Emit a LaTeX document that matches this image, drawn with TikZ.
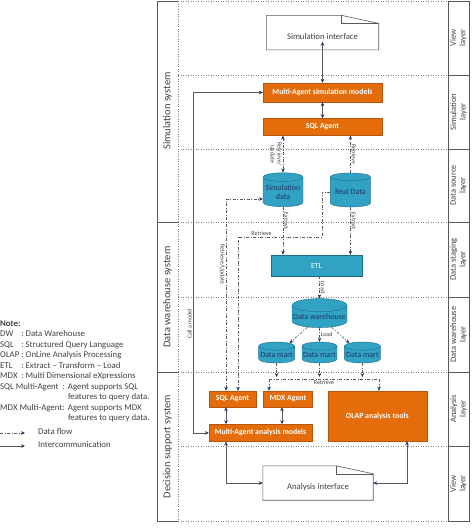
\documentclass[tikz,border=0pt]{standalone}
\usepackage{fontspec}
\setmainfont{Carlito}
\usetikzlibrary{positioning,shapes.geometric,arrows.meta}
\definecolor{orangefill}{HTML}{E46C0A}
\definecolor{orangeline}{HTML}{B5560C}
\definecolor{tealfill}{HTML}{31A1C4}
\definecolor{tealline}{HTML}{1E6E8A}
\definecolor{navy}{HTML}{1F3864}
\definecolor{linegray}{HTML}{595959}
\definecolor{textgray}{HTML}{404040}
\begin{document}
\begin{tikzpicture}[x=1pt,y=-1pt,
  agentbox/.style={draw=orangeline,fill=orangefill,text=white,font=\fontsize{7.8}{9}\selectfont\bfseries,inner sep=0pt},
  etlbox/.style={draw=tealline,fill=tealfill,text=white,font=\fontsize{7.8}{9}\selectfont,inner sep=0pt},
  dbase/.style={cylinder,shape border rotate=90,shape aspect=0.25,draw=tealline,fill=tealfill,text=navy,font=\fontsize{8}{9.5}\selectfont,align=center,inner sep=0pt},
  docpage/.style={inner sep=0pt,text=textgray,font=\fontsize{8.7}{10}\selectfont},
  flow/.style={draw=linegray,line width=0.6pt,dash pattern=on 3pt off 1.5pt on 1pt off 1.5pt},
  comm/.style={draw=linegray,line width=0.6pt},
  flowlabel/.style={font=\fontsize{6}{7}\selectfont,text=textgray,inner sep=1pt},
  layerlabel/.style={rotate=90,align=center,text=textgray,font=\fontsize{8.5}{9.5}\selectfont},
  syslabel/.style={rotate=90,text=textgray,font=\fontsize{10.5}{12}\selectfont},
  layerline/.style={draw=gray,line width=0.5pt,dotted},
  legtext/.style={text=textgray,font=\fontsize{8.8}{10.5}\selectfont,inner sep=0pt},
  >={Stealth[length=4pt,width=3.6pt,color=navy]}]
\useasboundingbox (0,0) rectangle (474,528);
\draw[linegray,line width=0.6pt] (178,1) -- (157,1) -- (157,521) -- (178,521);
\draw[linegray,line width=0.6pt] (157,222) -- (178,222) (157,372) -- (178,372);
\draw[layerline] (178,1) -- (178,521);
\foreach \y in {1,75,149,222,297,372,446,521}
  \draw[layerline] (178,\y) -- (448,\y);
\draw[linegray,line width=0.6pt] (448,1) rectangle (469,521);
\foreach \y in {75,149,222,297,372,446}
  \draw[linegray,line width=0.6pt] (448,\y) -- (469,\y);
\node[syslabel] (simsys) at (167.5,111) {Simulation system};
\node[syslabel] (dwsys) at (167.5,297) {Data warehouse system};
\node[syslabel] (dss) at (167.5,446.5) {Decision support system};
\node[layerlabel] (l1) at (458.5,38) {View\\layer};
\node[layerlabel] (l2) at (458.5,112) {Simulation\\layer};
\node[layerlabel] (l3) at (458.5,185.5) {Data source\\layer};
\node[layerlabel] (l4) at (458.5,259.5) {Data staging\\layer};
\node[layerlabel] (l5) at (458.5,334.5) {Data warehouse\\layer};
\node[layerlabel] (l6) at (458.5,409) {Analysis\\layer};
\node[layerlabel] (l7) at (458.5,483.5) {View\\layer};

\node[agentbox,minimum width=119pt,minimum height=19pt] (masim) at (322.5,92.5) {Multi-Agent simulation models};
\node[docpage,minimum width=112pt,minimum height=26pt,above=33pt of masim] (simint) {Simulation interface};
\node[agentbox,minimum width=119pt,minimum height=17pt,below=16pt of masim] (sqlsim) {SQL Agent};
\node[dbase,minimum width=40pt,minimum height=34pt] (simdata) at (283,192) {Simulation\\data};
\node[dbase,minimum width=40pt,minimum height=34pt,right=27pt of simdata] (realdata) {Real Data};
\node[etlbox,minimum width=91pt,minimum height=21pt] (etl) at (316.5,265.5) {ETL};
\node[dbase,minimum width=55pt,minimum height=29pt] (dw) at (319.5,316.5) {Data warehouse};
\node[dbase,minimum width=35pt,minimum height=21pt,below=14pt of dw] (dm2) {Data mart};
\node[dbase,minimum width=36pt,minimum height=21pt,left=7pt of dm2] (dm1) {Data mart};
\node[dbase,minimum width=36pt,minimum height=21pt,right=7pt of dm2] (dm3) {Data mart};
\node[agentbox,minimum width=47pt,minimum height=16pt] (sqlana) at (232.5,399) {SQL Agent};
\node[agentbox,minimum width=49pt,minimum height=16pt,right=7pt of sqlana] (mdx) {MDX Agent};
\node[agentbox,minimum width=99pt,minimum height=50pt,right=15pt of mdx.north east,anchor=north west] (olap) {OLAP analysis tools};
\node[agentbox,minimum width=103pt,minimum height=17pt,below=17pt of sqlana.south west,anchor=north west] (maana) {Multi-Agent analysis models};
\node[docpage,minimum width=110pt,minimum height=26pt] (anaint) at (318,487) {Analysis interface};

\draw[linegray,line width=0.6pt] ([yshift=8pt]simint.north west) -- ([xshift=-37pt,yshift=8pt]simint.north east) -- (simint.north east) -- (simint.south east) -- (simint.south west) -- cycle;
\draw[linegray,line width=0.6pt] ([xshift=-37pt,yshift=8pt]simint.north east) -- ([xshift=-37pt]simint.north east) -- (simint.north east);
\draw[linegray,line width=0.6pt] ([yshift=8pt]anaint.north west) -- ([xshift=-37pt,yshift=8pt]anaint.north east) -- (anaint.north east) -- (anaint.south east) -- (anaint.south west) -- cycle;
\draw[linegray,line width=0.6pt] ([xshift=-37pt,yshift=8pt]anaint.north east) -- ([xshift=-37pt]anaint.north east) -- (anaint.north east);

\coordinate (cm) at (193,0);
\coordinate (ru) at (226,0);
\coordinate (rs) at (238,0);
\coordinate (mx) at (282,0);
\coordinate (ox) at (407,0);
\coordinate (rv) at (322,237);
\coordinate (rl) at (0,377);
\coordinate (rtl) at (269,379);
\coordinate (rtr) at (379,379);

\draw[comm,<->] ([yshift=8pt]simint.south) -- (masim.north);
\draw[comm,<->] (masim) -- (sqlsim);
\draw[comm,<->] (ru |- sqlana.south) -- (ru |- maana.north);
\draw[comm,<->] (mx |- mdx.south) -- (mx |- maana.north);
\draw[comm,<->] (ru |- maana.south) |- ([yshift=4pt]anaint.west);
\draw[comm,<->] (ox |- olap.south) |- ([yshift=4pt]anaint.east);
\draw[comm,<->] (masim.west) -- (masim.west -| cm) -- node[pos=0.68,rotate=90,anchor=south,flowlabel]{Call a model} (maana.west -| cm) -- (maana.west);

\draw[flow,<->] (sqlsim.south -| simdata.north) -- node[midway,rotate=-90,anchor=north,align=center,flowlabel]{Retrieve/\\Update} (simdata.north);
\draw[flow,->] (realdata.north) -- node[midway,rotate=-90,anchor=south,flowlabel]{Retrieve} (realdata.north |- sqlsim.south);
\draw[flow,->] (simdata.south) -- node[pos=0.3,rotate=-90,anchor=south,flowlabel]{Extract} (simdata.south |- etl.north);
\draw[flow,->] (realdata.south) -- node[pos=0.3,rotate=-90,anchor=south,flowlabel]{Extract} (realdata.south |- etl.north);
\draw[flow,->] (dw.north |- etl.south) -- node[midway,rotate=-90,anchor=south,flowlabel]{Load} (dw.north);
\draw[flow,->] (dw) -- (dm1);
\draw[flow,->] (dw) -- node[midway,right,flowlabel]{Load} (dm2);
\draw[flow,->] (dw) -- (dm3);
\draw[flow,->] (dm1.south) -- (dm1.south |- rl);
\draw[flow,->] (dm2.south) -- (dm2.south |- rl);
\draw[flow,->] (dm3.south) -- (dm3.south |- rl);
\draw[flow] (rtl) -- node[midway,below,flowlabel]{Retrieve} (rtr);
\draw[flow,->] (rtl) -- (rtl |- mdx.north);
\draw[flow,->] (rtr) -- (rtr |- olap.north);
\draw[flow,<->] (ru |- sqlana.north) |- node[pos=0.33,rotate=-90,anchor=north,flowlabel]{Retrieve/Update} ([yshift=-7pt]simdata.west);
\draw[flow,->] (realdata.west) -| (rv) -| node[pos=0.36,above,flowlabel]{Retrieve} (rs |- sqlana.north);

\node[legtext,anchor=north west] (abbr) at (0,318.5) {\begin{tabular}{@{}l@{ : }l@{}}
\multicolumn{2}{@{}l@{}}{\textbf{Note:}}\\
DW & Data Warehouse\\
SQL & Structured Query Language\\
OLAP & OnLine Analysis Processing\\
ETL & Extract -- Transform -- Load\\
MDX & Multi Dimensional eXpressions
\end{tabular}};
\node[legtext,below=0pt of abbr.south west,anchor=north west] (agents) {\begin{tabular}{@{}l@{\hspace{3pt}}l@{}}
SQL Multi-Agent\hspace{4pt}: & Agent supports SQL\\
& features to query data.\\
MDX Multi-Agent: & Agent supports MDX\\
& features to query data.
\end{tabular}};
\coordinate (fa) at (0,433);
\coordinate (fb) at (25,433);
\coordinate (ca) at (0,446);
\coordinate (cb) at (25,446);
\draw[flow,->] (fa) -- (fb);
\draw[comm,->] (ca) -- (cb);
\node[legtext,anchor=west] (flowtxt) at (38,431) {Data flow};
\node[legtext,anchor=west] (commtxt) at (38,444) {Intercommunication};
\end{tikzpicture}
\end{document}
